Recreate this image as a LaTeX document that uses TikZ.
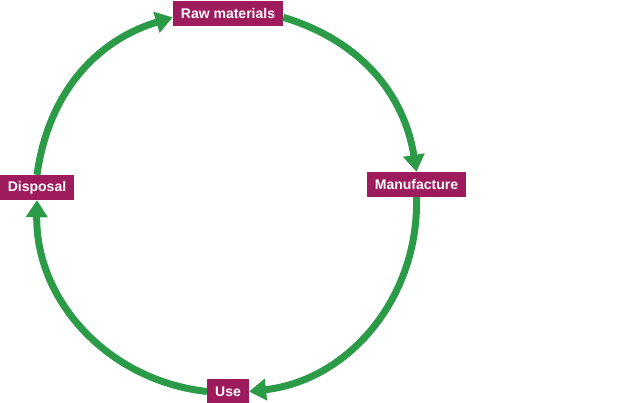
\documentclass[tikz,border=0pt]{standalone}
\usepackage{fontspec}
\setsansfont{Liberation Sans}
\usetikzlibrary{arrows.meta}
\definecolor{plum}{HTML}{9E1B5E}
\definecolor{leaf}{HTML}{2B9B48}

\begin{document}
\begin{tikzpicture}[
    x=1pt, y=1pt,
    stage/.style={
        fill=plum,
        text=white,
        minimum height=25pt,
        inner xsep=8pt,
        inner ysep=0pt,
        font=\sffamily\bfseries\fontsize{14}{16}\selectfont,
    },
    flow/.style={
        draw=leaf,
        line width=7pt,
        -{Triangle[length=17pt,width=21pt]},
    },
]
\useasboundingbox (0,0) rectangle (624,403);

\node[stage] (raw) at (228, 389.5) {Raw materials};
\node[stage] (manu) at (416.5, 218.5) {Manufacture};
\node[stage] (use) at (228, 11.5) {Use};
\node[stage] (disp) at (37, 215.5) {Disposal};

\draw[flow] (raw.-4) to[out=-16.8, in=99.1] (manu.north);
\draw[flow] (manu.south) to[out=-88.5, in=6.3] (use.east);
\draw[flow] (use.west) to[out=173.7, in=-90.9] (disp.south);
\draw[flow] (disp.north) to[out=82.1, in=196.8] (raw.184);

\end{tikzpicture}
\end{document}
